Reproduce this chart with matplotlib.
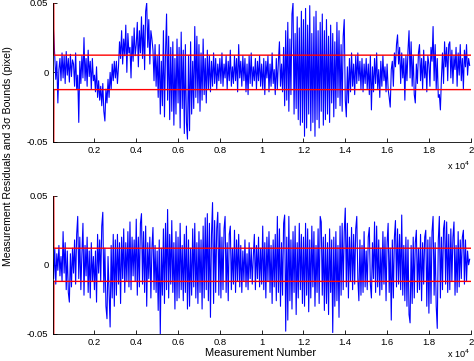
import numpy as np
import matplotlib.pyplot as plt

plt.rcParams['font.family'] = ['Liberation Sans', 'DejaVu Sans']

# residuals in units of 1e-3 pixel, one row per 1000 measurements (step 50)
top_res = [
    43, 28, 12, -5, 8, -22, 2, 10, -6, 14, -4, 12, -8, 15, -2, 10, -7, 13, -3, 9,
    6, -10, 14, -12, -2, -36, 8, -8, 12, -4, 25, -6, 10, -10, 16, -3, 8, -12, 10, -6,
    -2, -14, 4, -18, -6, -20, -10, -24, -8, -28, -35, -12, -22, -5, -18, 0, -12, 6, -6, 8,
    -4, 8, -8, 4, 22, 10, 30, 6, 24, 12, 34, 0, 28, 14, 18, -4, 26, 8, 32, 12,
    20, 36, 4, 30, 14, 40, 10, 34, 2, 44, 50, 18, 38, 6, 30, 24, 16, -6, 20, -10,
    12, -18, 20, -30, 8, -24, 30, -32, 14, 42, -20, 26, -34, 18, -28, 22, -38, 10, -30, 24,
    -22, 18, -40, 29, -26, 16, -44, 20, -36, -48, 12, -42, 22, -30, 8, -26, 33, -18, 26, -22,
    20, -28, 14, -20, 24, -16, 10, -22, 16, -12, 12, -14, 8, -10, 14, -8, 10, -12, 6, -6,
    10, -8, 14, -10, 6, -4, 12, -12, 8, -6, 16, -10, 4, -8, 12, -6, 10, -14, 20, -4,
    8, -10, 12, -6, 10, -14, 6, -16, 12, -8, 14, -10, 4, -6, 10, -12, 8, -6, 12, -10,
    6, -12, 10, -16, 8, -4, 12, -14, 6, -10, 14, -8, 2, -16, 10, -12, 8, 22, -10, 6,
    -14, 18, -24, 30, -20, 36, -28, 24, -16, 42, 50, -30, 28, -26, 40, -34, 32, -38, 44, -36,
    38, -46, 46, -40, 34, -30, 48, -42, 28, -36, 40, -46, 44, -34, 30, -40, 36, -28, 42, -38,
    30, -34, 38, -30, 26, -36, 34, -22, 28, -32, 22, -26, 36, -18, 30, -24, 20, -28, 26, 38,
    -20, -32, 4, -22, 10, -14, 14, -10, 6, -16, 12, -8, 14, -6, 8, -12, 10, -14, 6, -8,
    10, -12, 6, -16, 12, -27, 4, -14, 10, -8, 14, -12, 2, -18, 8, -10, 12, -6, 4, -14,
    6, -12, -18, -25, 2, 8, -10, 14, 4, 20, 27, 6, 18, -8, 14, -4, 10, -20, 12, -6,
    16, 30, -4, 22, -10, 12, -16, -22, 6, -8, 14, 20, -6, 10, -12, 16, -4, 8, -14, 12,
    6, -10, 18, 8, 33, -6, 20, -12, 10, -18, -16, -27, -4, 14, -8, 22, 4, 18, -6, 20,
    22, -4, 16, -8, 12, 2, 18, -10, 14, -2, 20, -6, 10, -12, 16, 4, 20, -2, 10, 5,
]

bot_res = [
    4, -10, 12, -14, 8, -4, 14, -8, 6, -12, 24, -6, 16, -18, 10, -20, -27, 8, -16, 12,
    -6, 18, -14, 22, 35, -10, 20, -18, 8, 30, -22, 14, -8, 20, -20, 10, -24, 16, -12, 6,
    -18, 10, -27, 22, -6, 18, -12, 28, 38, -20, 12, -30, -39, 6, -20, -45, 14, -24, 22, -30,
    18, -22, 22, -14, 16, -28, 20, -10, 26, -20, 16, -12, 24, -16, 31, -18, 20, -8, 18, -12,
    33, -22, 20, -16, 30, 37, -14, 24, -20, 28, -30, 16, -10, 20, -24, 12, 27, -18, 14, -20,
    10, -33, 18, -50, 12, -22, 26, -28, 30, -18, 40, -24, 22, -14, 32, -20, 16, -32, 24, -26,
    20, -24, 30, -18, 14, -26, 22, -20, 28, -32, 18, -30, 12, -22, 26, -16, 30, -24, 16, -28,
    24, -20, 18, -32, 28, -24, 34, -18, 37, -26, 30, -38, 22, 45, -28, 32, -20, 26, 38, -22,
    30, -24, 20, -18, 26, 35, -20, 16, -26, 22, 28, -18, 12, -14, 25, -20, 18, -12, 22, -16,
    14, -20, 10, -12, 18, -16, 8, -18, 16, -10, 12, -14, 6, 22, -18, 14, -10, 20, -16, 12,
    -14, 28, -18, 16, -24, 20, -12, 24, -20, 14, -28, 18, -16, 22, -26, 35, -20, 26, -30, 16,
    -22, 30, 36, -48, 20, -40, 35, -26, 18, -32, 24, -20, 28, -36, 16, -24, 30, -18, 22, -28,
    20, -30, 30, -22, 26, -34, 18, -24, 28, -16, 24, -30, 14, -20, 26, -28, 35, 31, -22, 20,
    -33, 22, -28, 16, -36, 26, -20, 18, -49, 20, -30, 24, -26, 14, -38, 28, -22, 30, -18, 24,
    41, -16, 30, -24, 20, -12, 27, -18, 22, -14, 26, 35, -10, -26, 18, -22, 14, -20, 24, -16,
    10, -18, 20, 27, -14, -24, 16, -10, 31, -20, 28, -16, 18, -22, 12, -18, 24, -14, 20, -26,
    16, 30, -20, 12, -40, 18, -24, 20, 32, -16, 26, -14, 22, -18, 36, -22, 14, -26, 20, -30,
    18, -36, -42, 14, -28, 20, -24, 16, 25, -20, 12, -18, 22, -26, 16, -14, 20, 25, -30, 18,
    -35, 20, -28, 24, 35, -22, 16, -30, -46, 18, 35, -24, 20, -18, 26, 32, -14, 31, -20, 22,
    -18, 26, -12, 20, 31, -22, 14, -20, 24, -16, 18, -10, 20, 25, -14, 18, -12, 10, 0, 4,
]

meas = np.arange(1, 20000, 50)

# 3-sigma bounds
bound_n = [1, 60, 20000]
top_bound = [0.3, 0.0124, 0.0124]
bot_bound = [0.3, 0.012, 0.012]

xticks = [2000, 4000, 6000, 8000, 10000, 12000, 14000, 16000, 18000, 20000]
xticklabels = ["0.2", "0.4", "0.6", "0.8", "1", "1.2", "1.4", "1.6", "1.8", "2"]
yticks = [-0.05, 0, 0.05]
yticklabels = ["-0.05", "0", "0.05"]

fig = plt.figure(figsize=(4.74, 3.61), dpi=100)
ax1 = fig.add_axes([0.111, 0.607, 0.882, 0.385])
ax2 = fig.add_axes([0.111, 0.075, 0.882, 0.383])

for ax, res, bnd, ety in [(ax1, top_res, top_bound, -0.17), (ax2, bot_res, bot_bound, -0.145)]:
    ax.plot(meas, np.array(res) * 1e-3, color="b", linewidth=0.8)
    ax.plot(bound_n, bnd, color="r", linewidth=1.0)
    ax.plot(bound_n, -np.array(bnd), color="r", linewidth=1.0)
    ax.set_xlim(0, 20000)
    ax.set_ylim(-0.05, 0.05)
    ax.set_xticks(xticks)
    ax.set_xticklabels(xticklabels)
    ax.set_yticks(yticks)
    ax.set_yticklabels(yticklabels)
    ax.tick_params(direction="in", length=3, width=0.6, labelsize=6.8, pad=3)
    for s in ["top", "right"]:
        ax.spines[s].set_visible(False)
    for s in ["left", "bottom"]:
        ax.spines[s].set_linewidth(0.6)
    ax.text(0.998, ety, r"x 10$^4$", transform=ax.transAxes, ha="right", va="center", fontsize=6.6)

fig.text(0.017, 0.567, "Measurement Residuals and 3σ Bounds (pixel)", rotation=90,
         ha="center", va="center", fontsize=7.6)
fig.text(0.55, 0.022, "Measurement Number", ha="center", va="center", fontsize=8)

fig.savefig("out.png", dpi=100)
